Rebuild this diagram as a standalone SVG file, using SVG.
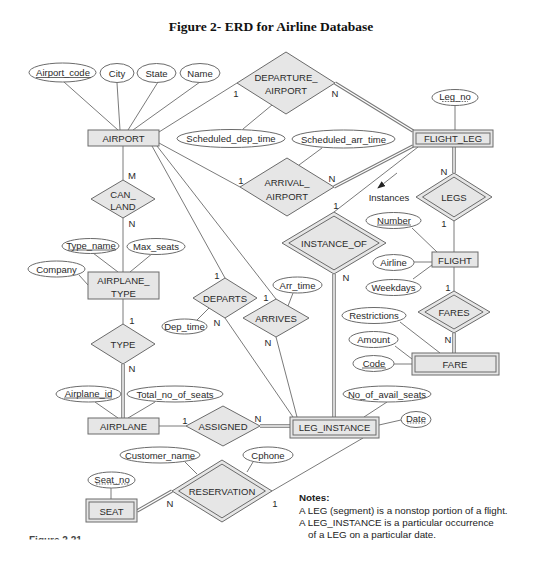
<svg xmlns="http://www.w3.org/2000/svg" width="536" height="566" viewBox="0 0 536 566">
<style>
.ent{fill:#e6e6e6;stroke:#6b6b6b;stroke-width:1}
.in{fill:none;stroke:#6b6b6b;stroke-width:1}
.att{fill:#fff;stroke:#6b6b6b;stroke-width:1}
.ln{stroke:#6b6b6b;stroke-width:0.9;fill:none}
.dbl{stroke:#7a7a7a;stroke-width:3.6;fill:none}
.dblw{stroke:#fff;stroke-width:1.4;fill:none}
.ul{stroke:#444;stroke-width:0.8}
.dul{stroke:#555;stroke-width:0.8;stroke-dasharray:1.6 1.2}
text{font-family:"Liberation Sans",Arial,Helvetica,sans-serif;font-size:9.5px;fill:#2a2a2a;text-anchor:middle;dominant-baseline:central}
.card{font-size:9.5px}
.note{text-anchor:start;font-size:9.8px;fill:#222}
.title{font-family:"Liberation Serif","Times New Roman",serif;font-weight:bold;font-size:13.5px;fill:#111}
</style>
<defs>
<marker id="ah" markerWidth="8" markerHeight="6" refX="7" refY="3" orient="auto" markerUnits="userSpaceOnUse">
<path d="M0,0 L8,3 L0,6 Z" fill="#222"/>
</marker>
<clipPath id="cut"><rect x="0" y="0" width="536" height="539.5"/></clipPath>
</defs>
<rect width="536" height="566" fill="#fff"/>
<text class="title" x="271" y="26">Figure 2- ERD for Airline Database</text>

<g id="connectors">
<line class="ln" x1="64" y1="82" x2="118" y2="130"/>
<line class="ln" x1="117" y1="83" x2="120" y2="130"/>
<line class="ln" x1="158" y1="82" x2="128" y2="130"/>
<line class="ln" x1="200" y1="82" x2="133" y2="130"/>
<line class="ln" x1="159" y1="132" x2="237" y2="83"/>
<line class="ln" x1="159" y1="143" x2="240" y2="187"/>
<line class="ln" x1="152" y1="146" x2="225" y2="278"/>
<line class="ln" x1="157" y1="146" x2="276" y2="299"/>
<line class="ln" x1="123" y1="146" x2="123" y2="180"/>
<line class="ln" x1="123" y1="218" x2="123" y2="272"/>
<line class="ln" x1="243" y1="129" x2="272" y2="105"/>
<line class="ln" x1="322" y1="148" x2="299" y2="165"/>
<line class="dbl" x1="335" y1="83" x2="413" y2="131"/>
<line class="dblw" x1="335" y1="83" x2="413" y2="131"/>
<line class="dbl" x1="334" y1="187" x2="413" y2="146"/>
<line class="dblw" x1="334" y1="187" x2="413" y2="146"/>
<line class="ln" x1="455" y1="105" x2="455" y2="130"/>
<line class="ln" x1="418" y1="147" x2="334" y2="212"/>
<line class="ln" x1="397" y1="173" x2="378" y2="188" stroke="#222" marker-end="url(#ah)"/>
<line class="dbl" x1="454" y1="147" x2="454" y2="173"/>
<line class="dblw" x1="454" y1="147" x2="454" y2="173"/>
<line class="ln" x1="454" y1="221" x2="454" y2="252"/>
<line class="ln" x1="412" y1="228" x2="437" y2="252"/>
<line class="ln" x1="414" y1="262" x2="432" y2="262"/>
<line class="ln" x1="413" y1="279" x2="432" y2="265"/>
<line class="ln" x1="454" y1="267" x2="454" y2="291"/>
<line class="dbl" x1="454" y1="333" x2="454" y2="353"/>
<line class="dblw" x1="454" y1="333" x2="454" y2="353"/>
<line class="ln" x1="400" y1="322" x2="440" y2="353"/>
<line class="ln" x1="395" y1="346" x2="412" y2="359"/>
<line class="ln" x1="394" y1="364" x2="412" y2="364" stroke-width="1.8"/>
<line class="dbl" x1="334" y1="274" x2="334" y2="417"/>
<line class="dblw" x1="334" y1="274" x2="334" y2="417"/>
<line class="ln" x1="293" y1="293" x2="288" y2="306"/>
<line class="ln" x1="197" y1="320" x2="209" y2="308"/>
<line class="ln" x1="225" y1="318" x2="293" y2="417"/>
<line class="ln" x1="276" y1="337" x2="297" y2="417"/>
<line class="ln" x1="387" y1="402" x2="364" y2="417"/>
<line class="ln" x1="379" y1="425" x2="401" y2="420"/>
<line class="ln" x1="93" y1="253" x2="118" y2="272"/>
<line class="ln" x1="153" y1="253" x2="130" y2="272"/>
<line class="ln" x1="79" y1="275" x2="88" y2="285"/>
<line class="ln" x1="123" y1="299" x2="123" y2="324"/>
<line class="dbl" x1="123" y1="364" x2="123" y2="418"/>
<line class="dblw" x1="123" y1="364" x2="123" y2="418"/>
<line class="ln" x1="95" y1="402" x2="118" y2="418"/>
<line class="ln" x1="155" y1="402" x2="128" y2="418"/>
<line class="ln" x1="159" y1="426" x2="186" y2="426"/>
<line class="dbl" x1="260" y1="426" x2="290" y2="426"/>
<line class="dblw" x1="260" y1="426" x2="290" y2="426"/>
<line class="ln" x1="363" y1="438" x2="272" y2="491"/>
<line class="ln" x1="185" y1="462" x2="197" y2="474"/>
<line class="ln" x1="253" y1="462" x2="247" y2="472"/>
<line class="ln" x1="111" y1="488" x2="111" y2="499"/>
<line class="dbl" x1="137" y1="511" x2="172" y2="491"/>
<line class="dblw" x1="137" y1="511" x2="172" y2="491"/>
<text class="card" x="236" y="93">1</text>
<text class="card" x="335" y="93">N</text>
<text class="card" x="241" y="180">1</text>
<text class="card" x="332" y="178">N</text>
<text class="card" x="336" y="205">1</text>
<text class="card" x="444" y="171">N</text>
<text class="card" x="444" y="223">1</text>
<text class="card" x="448" y="287">1</text>
<text class="card" x="448" y="339">N</text>
<text class="card" x="346" y="277">N</text>
<text class="card" x="132" y="175">M</text>
<text class="card" x="132" y="223">N</text>
<text class="card" x="132" y="320">1</text>
<text class="card" x="132" y="368">N</text>
<text class="card" x="217" y="275">1</text>
<text class="card" x="217" y="322">N</text>
<text class="card" x="266" y="297">1</text>
<text class="card" x="268" y="342">N</text>
<text class="card" x="185" y="420">1</text>
<text class="card" x="258" y="418">N</text>
<text class="card" x="170" y="503">N</text>
<text class="card" x="275" y="503">1</text>
<text class="card" x="389" y="197">Instances</text>
</g>

<g id="Airport_code"><ellipse class="att" cx="62.5" cy="72.5" rx="33.5" ry="9.5"/><text x="63" y="72">Airport_code</text><line class="ul" x1="36" y1="77.5" x2="91" y2="77.5"/></g>
<g id="City"><ellipse class="att" cx="117" cy="73" rx="17" ry="9.5"/><text x="117" y="73">City</text></g>
<g id="State"><ellipse class="att" cx="156.5" cy="73" rx="19.5" ry="9.5"/><text x="156.5" y="73">State</text></g>
<g id="Name"><ellipse class="att" cx="200" cy="73" rx="20" ry="9.5"/><text x="200" y="73">Name</text></g>
<g id="AIRPORT"><rect class="ent" x="88" y="130" width="71" height="16"/><text x="123.5" y="138.5">AIRPORT</text></g>

<g id="DEPARTURE_AIRPORT"><polygon class="ent" points="237,83 286,52 335,83 286,114"/><text x="286" y="77">DEPARTURE_</text><text x="286" y="90">AIRPORT</text></g>
<g id="Scheduled_dep_time"><ellipse class="att" cx="231" cy="138.5" rx="54" ry="9"/><text x="231" y="138.5">Scheduled_dep_time</text></g>
<g id="Scheduled_arr_time"><ellipse class="att" cx="343.5" cy="139" rx="51.5" ry="9"/><text x="343.5" y="139">Scheduled_arr_time</text></g>
<g id="ARRIVAL_AIRPORT"><polygon class="ent" points="240,187 287,158 334,187 287,216"/><text x="287" y="182">ARRIVAL_</text><text x="287" y="196">AIRPORT</text></g>

<g id="Leg_no"><ellipse class="att" cx="455" cy="97.5" rx="23" ry="8"/><text x="455" y="96.5">Leg_no</text><line class="dul" x1="442" y1="101.5" x2="468" y2="101.5"/></g>
<g id="FLIGHT_LEG"><rect class="ent" x="413" y="130" width="80" height="17"/><rect class="in" x="416" y="133" width="74" height="11"/><text x="453" y="138.5">FLIGHT_LEG</text></g>

<g id="LEGS"><polygon class="ent" points="416,197 454,173 492,197 454,221"/><polygon class="in" points="422.5,197 454,177.1 485.5,197 454,216.9"/><text x="454" y="197">LEGS</text></g>
<g id="INSTANCE_OF"><polygon class="ent" points="282,243 334,212 386,243 334,274"/><polygon class="in" points="288.8,243 334,216.1 379.2,243 334,269.9"/><text x="334" y="243">INSTANCE_OF</text></g>

<g id="Number"><ellipse class="att" cx="393.5" cy="220.5" rx="27.5" ry="8"/><text x="394" y="220">Number</text><line class="ul" x1="377" y1="225" x2="411" y2="225"/></g>
<g id="Airline"><ellipse class="att" cx="393.5" cy="262.5" rx="20.5" ry="8"/><text x="393.5" y="262.5">Airline</text></g>
<g id="Weekdays"><ellipse class="att" cx="393.5" cy="287.5" rx="27.5" ry="8"/><text x="393.5" y="287.5">Weekdays</text></g>
<g id="FLIGHT"><rect class="ent" x="432" y="252" width="46" height="15"/><text x="455" y="260">FLIGHT</text></g>

<g id="FARES"><polygon class="ent" points="418,312 454,291 490,312 454,333"/><polygon class="in" points="424.9,312 454,295 483.1,312 454,329"/><text x="454" y="312">FARES</text></g>
<g id="Restrictions"><ellipse class="att" cx="374" cy="315.5" rx="32" ry="8"/><text x="374" y="315.5">Restrictions</text></g>
<g id="Amount"><ellipse class="att" cx="373.5" cy="339.5" rx="24.5" ry="8"/><text x="373.5" y="339.5">Amount</text></g>
<g id="Code"><ellipse class="att" cx="373.5" cy="363.5" rx="20.5" ry="8"/><text x="374" y="363">Code</text><line class="ul" x1="362" y1="368" x2="386" y2="368"/></g>
<g id="FARE"><rect class="ent" x="412" y="353" width="87" height="22"/><rect class="in" x="415" y="356" width="81" height="16"/><text x="455" y="364.5">FARE</text></g>

<g id="CAN_LAND"><polygon class="ent" points="91,199 123,180 155,199 123,218"/><text x="123" y="194">CAN_</text><text x="123" y="206">LAND</text></g>
<g id="Type_name"><ellipse class="att" cx="90.5" cy="246" rx="28.5" ry="7.5"/><text x="91" y="245">Type_name</text><line class="ul" x1="68" y1="250" x2="116" y2="250"/></g>
<g id="Max_seats"><ellipse class="att" cx="156" cy="246.5" rx="29" ry="8"/><text x="156" y="246.5">Max_seats</text></g>
<g id="Company"><ellipse class="att" cx="56.5" cy="269" rx="28.5" ry="8"/><text x="56.5" y="269">Company</text></g>
<g id="AIRPLANE_TYPE"><rect class="ent" x="88" y="272" width="71" height="27"/><text x="123.5" y="280">AIRPLANE_</text><text x="123.5" y="293">TYPE</text></g>
<g id="TYPE"><polygon class="ent" points="91,344 123,324 155,344 123,364"/><text x="123" y="344">TYPE</text></g>

<g id="DEPARTS"><polygon class="ent" points="193,298 225,278 257,298 225,318"/><text x="225" y="298">DEPARTS</text></g>
<g id="Dep_time"><ellipse class="att" cx="184.5" cy="326.5" rx="22.5" ry="7.5"/><text x="184.5" y="326.5">Dep_time</text></g>
<g id="ARRIVES"><polygon class="ent" points="243,318 276,299 309,318 276,337"/><text x="276" y="318">ARRIVES</text></g>
<g id="Arr_time"><ellipse class="att" cx="297.5" cy="285" rx="24.5" ry="8"/><text x="297.5" y="285">Arr_time</text></g>

<g id="Airplane_id"><ellipse class="att" cx="88.5" cy="394" rx="32.5" ry="8"/><text x="88.5" y="393">Airplane_id</text><line class="ul" x1="64" y1="398" x2="112" y2="398"/></g>
<g id="Total_no_of_seats"><ellipse class="att" cx="175" cy="394" rx="48" ry="8"/><text x="175" y="394">Total_no_of_seats</text></g>
<g id="AIRPLANE"><rect class="ent" x="88" y="418" width="71" height="16"/><text x="123.5" y="426.5">AIRPLANE</text></g>
<g id="ASSIGNED"><polygon class="ent" points="186,426 223,406 260,426 223,446"/><text x="223" y="426">ASSIGNED</text></g>

<g id="No_of_avail_seats"><ellipse class="att" cx="387" cy="394" rx="44" ry="8"/><text x="387" y="394">No_of_avail_seats</text></g>
<g id="Date"><ellipse class="att" cx="416" cy="419.5" rx="15" ry="8"/><text x="416" y="418.5">Date</text><line class="dul" x1="407" y1="423" x2="426" y2="423"/></g>
<g id="LEG_INSTANCE"><rect class="ent" x="290" y="417" width="89" height="21"/><rect class="in" x="293" y="420" width="83" height="15"/><text x="334.5" y="427.5">LEG_INSTANCE</text></g>

<g id="Customer_name"><ellipse class="att" cx="160" cy="455" rx="40" ry="8"/><text x="160" y="455">Customer_name</text></g>
<g id="Cphone"><ellipse class="att" cx="268" cy="455" rx="25" ry="8"/><text x="268" y="455">Cphone</text></g>
<g id="RESERVATION"><polygon class="ent" points="172,491 222,460 272,491 222,522"/><polygon class="in" points="178.6,491 222,464.1 265.4,491 222,517.9"/><text x="222" y="491">RESERVATION</text></g>
<g id="Seat_no"><ellipse class="att" cx="111.5" cy="480" rx="23.5" ry="8"/><text x="112" y="479">Seat_no</text><line class="dul" x1="96" y1="484" x2="129" y2="484"/></g>
<g id="SEAT"><rect class="ent" x="86" y="499" width="51" height="23"/><rect class="in" x="89" y="502" width="45" height="17"/><text x="111.5" y="511">SEAT</text></g>

<g id="notes">
<text class="note" x="299" y="497" font-weight="bold">Notes:</text>
<text class="note" x="299" y="510">A LEG (segment) is a nonstop portion of a flight.</text>
<text class="note" x="299" y="522">A LEG_INSTANCE is a particular occurrence</text>
<text class="note" x="308" y="534">of a LEG on a particular date.</text>
</g>
<g clip-path="url(#cut)"><text x="29" y="540.5" style="text-anchor:start;font-weight:bold;font-size:10px;fill:#444">Figure 2.21</text></g>
</svg>
